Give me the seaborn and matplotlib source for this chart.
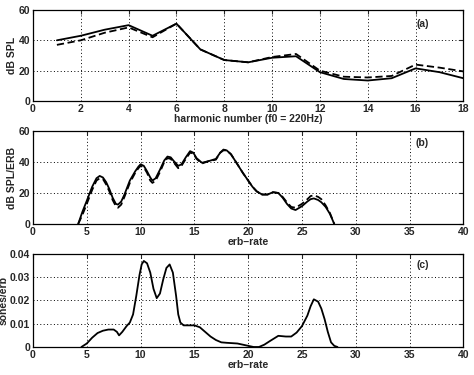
import matplotlib
matplotlib.use("Agg")
import matplotlib.pyplot as plt
import seaborn as sns
import pandas as pd
import numpy as np

# Panel (a): harmonic spectrum
harmonic = [1, 2, 3, 4, 5, 6, 7, 8, 9, 10, 11, 12, 13, 14, 15, 16, 17, 18]
spl_solid = [40, 43, 47, 50, 43, 51, 34, 27, 25.5, 28.5, 29.5, 19, 14.5, 13.5, 15, 21.5, 19, 15]
spl_dashed = [37, 40, 45, 48.5, 42, 51, 34, 27, 25.5, 29, 31, 20, 16, 15.5, 16.5, 24, 22, 19.5]

# Panel (b): excitation pattern
erb_b = [4.2, 4.6, 5.0, 5.5, 5.9, 6.2, 6.5, 6.8, 7.1, 7.4, 7.7, 7.9, 8.2, 8.5, 9.0, 9.5,
         9.8, 10.0, 10.3, 10.6, 10.9, 11.1, 11.4, 11.8, 12.2, 12.5, 12.8, 13.1, 13.5, 13.8,
         14.2, 14.6, 14.9, 15.2, 15.7, 16.3, 17.0, 17.4, 17.7, 18.0, 18.4, 19.0, 19.5, 20.0,
         20.4, 20.8, 21.3, 21.8, 22.3, 22.8, 23.2, 23.6, 24.0, 24.4, 25.0, 25.5, 25.8, 26.1,
         26.5, 26.8, 27.2, 27.6, 28.0]
db_solid = [0, 8, 15, 24, 29.5, 31, 30, 27, 22.5, 17, 13, 12.5, 14.5, 19, 28, 34,
            37, 38.5, 37.5, 34, 30, 28, 29.5, 35, 41, 43.5, 43, 40.5, 37.5, 38.5,
            43, 47, 46, 42.5, 39.5, 40.5, 42, 46, 48, 47.5, 45, 38.5, 33, 28,
            24, 21, 19, 19, 20.5, 20, 17, 13, 10, 9, 11.5, 14.5, 16, 16.5,
            15.5, 14, 11, 6.5, 0]
db_dashed = [0, 6, 13, 22, 28, 29.5, 29, 25.5, 21, 15.5, 11.5, 10.5, 12.5, 17.5, 26.5, 33,
             36, 37.5, 36.5, 33, 28, 26.5, 28, 33.5, 40, 42.5, 42, 39.5, 36, 37.5,
             42, 46, 45.5, 42, 39, 40.5, 41.5, 46, 47.5, 47.5, 45, 38.5, 33, 28,
             24, 21, 19, 19, 20.5, 20, 17.5, 14, 11, 10.5, 13, 16, 18, 18.5,
             17.5, 16, 12, 7, 0]

# Panel (c): specific loudness
erb_c = [4.5, 5.0, 5.5, 6.0, 6.5, 7.0, 7.5, 7.8, 8.0, 8.3, 8.7, 9.0, 9.3, 9.6, 9.9, 10.1,
         10.3, 10.6, 10.9, 11.2, 11.5, 11.8, 12.1, 12.4, 12.7, 13.0, 13.3, 13.5, 13.7, 14.0,
         15.0, 15.5, 16.0, 16.5, 17.0, 17.5, 18.0, 19.0, 20.0, 20.5, 21.0, 21.5, 22.0, 22.8,
         23.5, 24.0, 24.5, 25.0, 25.5, 25.8, 26.1, 26.5, 26.8, 27.1, 27.4, 27.7, 28.0, 28.3]
sones = [0, 0.0015, 0.004, 0.006, 0.007, 0.0075, 0.0075, 0.0065, 0.005, 0.0065, 0.009, 0.0105,
         0.014, 0.022, 0.031, 0.0355, 0.037, 0.036, 0.032, 0.025, 0.021, 0.023, 0.029, 0.034,
         0.0355, 0.032, 0.022, 0.014, 0.0105, 0.0093, 0.0093, 0.0085, 0.0065, 0.0045, 0.003,
         0.002, 0.0018, 0.0015, 0.0005, 0, 0, 0.001, 0.0025, 0.0048, 0.0045, 0.0045, 0.0062,
         0.009, 0.0135, 0.0175, 0.0205, 0.0195, 0.0165, 0.012, 0.0065, 0.002, 0.0005, 0]

sns.set_style("white")
plt.rcParams['font.family'] = ['Liberation Sans', 'DejaVu Sans']
plt.rcParams['font.weight'] = 'bold'
plt.rcParams['axes.labelweight'] = 'bold'

fig = plt.figure(figsize=(4.74, 3.75), dpi=100)
L, W = 0.0696, 0.908
ax_a = fig.add_axes([L, 0.7307, W, 0.2427])
ax_b = fig.add_axes([L, 0.4027, W, 0.248])
ax_c = fig.add_axes([L, 0.0747, W, 0.248])

df_a = pd.DataFrame({"x": harmonic * 2, "y": spl_solid + spl_dashed,
                     "s": ["solid"] * len(harmonic) + ["dashed"] * len(harmonic)})
df_b = pd.DataFrame({"x": erb_b * 2, "y": db_solid + db_dashed,
                     "s": ["solid"] * len(erb_b) + ["dashed"] * len(erb_b)})
df_c = pd.DataFrame({"x": erb_c, "y": sones})

dashes = {"solid": "", "dashed": (4, 2)}
sns.lineplot(data=df_a, x="x", y="y", style="s", dashes=dashes, color="black",
             lw=1.3, ax=ax_a, legend=False, sort=False)
sns.lineplot(data=df_b, x="x", y="y", style="s", dashes=dashes, color="black",
             lw=1.3, ax=ax_b, legend=False, sort=False)
sns.lineplot(data=df_c, x="x", y="y", color="black", lw=1.3, ax=ax_c, sort=False)

ax_a.set_xlim(0, 18); ax_a.set_ylim(0, 60)
ax_a.set_xticks(range(0, 19, 2)); ax_a.set_yticks([0, 20, 40, 60])
ax_a.set_xlabel("harmonic number (f0 = 220Hz)", fontsize=7.5, labelpad=0)
ax_a.set_ylabel("dB SPL", fontsize=7.5, labelpad=1)

ax_b.set_xlim(0, 40); ax_b.set_ylim(0, 60)
ax_b.set_xticks(range(0, 41, 5)); ax_b.set_yticks([0, 20, 40, 60])
ax_b.set_xlabel("erb\u2013rate", fontsize=7.5, labelpad=0)
ax_b.set_ylabel("dB SPL/ERB", fontsize=7.5, labelpad=1)

ax_c.set_xlim(0, 40); ax_c.set_ylim(0, 0.04)
ax_c.set_xticks(range(0, 41, 5)); ax_c.set_yticks([0, 0.01, 0.02, 0.03, 0.04])
ax_c.set_yticklabels(["0", "0.01", "0.02", "0.03", "0.04"])
ax_c.set_xlabel("erb\u2013rate", fontsize=7.5, labelpad=0)
ax_c.set_ylabel("sones/erb", fontsize=7.5, labelpad=1)

for ax, lab, ly in [(ax_a, "(a)", 0.85), (ax_b, "(b)", 0.87), (ax_c, "(c)", 0.88)]:
    ax.grid(True, color="black", linestyle=(0, (1, 2.5)), linewidth=0.7)
    ax.tick_params(direction="in", length=3, labelsize=7.5, pad=2, width=0.8)
    ax.tick_params(axis="y", right=True)
    ax.tick_params(axis="x", top=True)
    for sp in ax.spines.values():
        sp.set_color("black"); sp.set_linewidth(0.9)
    ax.text(0.905, ly, lab, transform=ax.transAxes, fontsize=7.5, fontweight="bold",
            ha="center", va="center")

fig.savefig("out.png", dpi=100)
